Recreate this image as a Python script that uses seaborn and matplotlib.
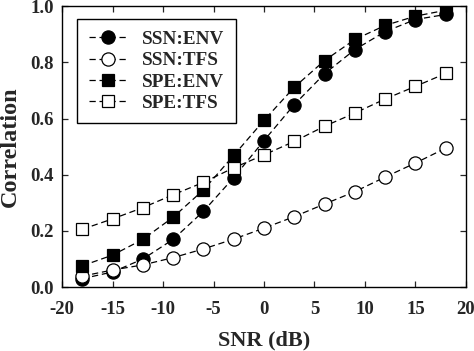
import matplotlib
matplotlib.use('Agg')
import matplotlib.pyplot as plt
import seaborn as sns
import pandas as pd

# values
snr = [-18, -15, -12, -9, -6, -3, 0, 3, 6, 9, 12, 15, 18]
ssn_env = [0.030, 0.054, 0.100, 0.170, 0.270, 0.390, 0.522, 0.650, 0.760, 0.846, 0.910, 0.953, 0.971]
ssn_tfs = [0.039, 0.061, 0.079, 0.105, 0.136, 0.171, 0.210, 0.251, 0.296, 0.340, 0.392, 0.442, 0.495]
spe_env = [0.076, 0.114, 0.170, 0.249, 0.346, 0.469, 0.594, 0.712, 0.807, 0.882, 0.932, 0.965, 0.986]
spe_tfs = [0.206, 0.243, 0.283, 0.329, 0.373, 0.425, 0.471, 0.519, 0.573, 0.620, 0.670, 0.715, 0.761]

names = ['SSN:ENV', 'SSN:TFS', 'SPE:ENV', 'SPE:TFS']
series = [ssn_env, ssn_tfs, spe_env, spe_tfs]
markers = ['o', 'o', 's', 's']
faces = ['black', 'white', 'black', 'white']

sns.set_style('ticks')
plt.rcParams['font.family'] = ['Liberation Serif', 'DejaVu Serif']
plt.rcParams['font.weight'] = 'bold'
plt.rcParams['axes.unicode_minus'] = False

fig = plt.figure(figsize=(4.74, 3.51), dpi=100)
ax = fig.add_axes([0.131, 0.182, 0.852, 0.800])

for name, vals, m, fc in zip(names, series, markers, faces):
    df = pd.DataFrame({'snr': snr, 'r': vals})
    sns.lineplot(data=df, x='snr', y='r', ax=ax, color='black', linewidth=0.9,
                 linestyle=(0, (5, 3)), marker=m, markersize=9.5 if m == 'o' else 8.5,
                 markerfacecolor=fc, markeredgecolor='black', markeredgewidth=0.9,
                 label=name)

ax.set_xlim(-20, 20)
ax.set_ylim(0, 1.0)
ax.set_xticks(range(-20, 21, 5))
ax.set_yticks([0.0, 0.2, 0.4, 0.6, 0.8, 1.0])
ax.set_yticklabels(['0.0', '0.2', '0.4', '0.6', '0.8', '1.0'])
ax.tick_params(direction='in', top=True, right=True, length=4, width=0.9,
               labelsize=13.5)
ax.tick_params(axis='x', pad=10)
ax.tick_params(axis='y', pad=6)
for lab in ax.get_xticklabels() + ax.get_yticklabels():
    lab.set_fontweight('bold')
for s in ax.spines.values():
    s.set_linewidth(1.0)
    s.set_color('black')

ax.set_xlabel('SNR (dB)', fontsize=16, fontweight='bold', labelpad=9)
ax.set_ylabel('Correlation', fontsize=17.5, fontweight='bold', labelpad=7)

leg = ax.legend(loc='upper left', bbox_to_anchor=(0.037, 0.954), borderaxespad=0,
                fontsize=13.8, handlelength=2.0, handletextpad=0.8, labelspacing=0.2,
                borderpad=0.6, fancybox=False, edgecolor='black', framealpha=1)
leg.get_frame().set_linewidth(1.0)
for t in leg.get_texts():
    t.set_fontweight('bold')

plt.savefig('out.png', dpi=100)
